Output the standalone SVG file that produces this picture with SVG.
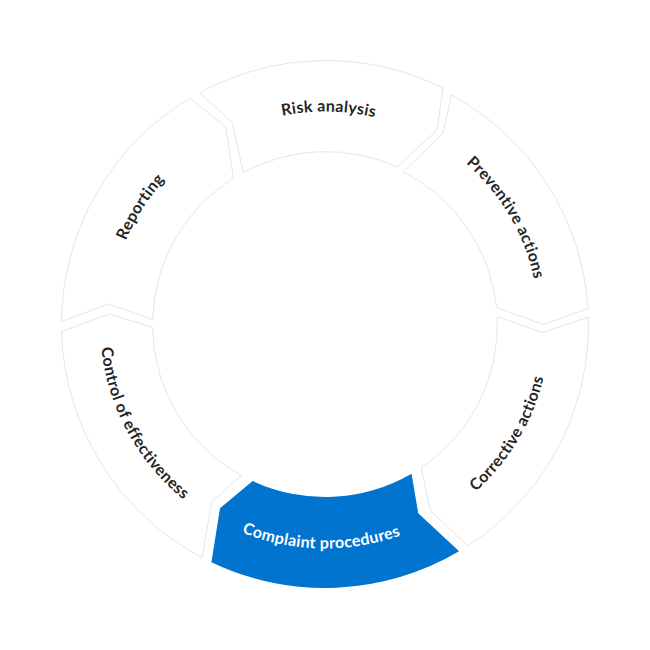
<svg xmlns="http://www.w3.org/2000/svg" width="650" height="650" viewBox="0 0 650 650">
<style>
.seg{fill:#ffffff;stroke:#e6e6e6;stroke-width:1;stroke-linejoin:miter}
.active{fill:#0074cf;stroke:none}
.lbl{font-family:Lato,"Liberation Sans",sans-serif;font-size:16px;font-weight:bold;letter-spacing:0.3px;fill:#262626;text-anchor:middle}
.lbl-w{fill:#ffffff}
</style>
<defs>
<path id="p-risk" d="M190.96 158.98 A213 213 0 0 1 464.75 163.75"/>
<path id="p-prev" d="M396.43 122.78 A214 214 0 0 1 536.07 359.81"/>
<path id="p-corr" d="M399.0 536.99 A225 225 0 0 0 547.1 288.52"/>
<path id="p-comp" d="M178.03 493.55 A224 224 0 0 0 465.96 498.57"/>
<path id="p-ctrl" d="M104.52 279.63 A225 225 0 0 0 242.54 533.84"/>
<path id="p-rep" d="M110.85 352.69 A216 216 0 0 1 260.05 118.5"/>
</defs>
<rect width="650" height="650" fill="#ffffff"/>
<g id="risk-analysis">
<path class="seg" d="M199.8 92.7 A263.5 263.5 0 0 1 443 88 L437 130 L397 167 A172.5 172.5 0 0 0 243.2 172.6 L232.3 122.8 Z"/>
<text class="lbl"><textPath href="#p-risk" startOffset="50%">Risk analysis</textPath></text>
</g>
<g id="preventive-actions">
<path class="seg" d="M451.7 95 A263.5 263.5 0 0 1 588 308.5 L543 324.5 L496.7 307.5 A172.5 172.5 0 0 0 403 172 L443 133 Z"/>
<text class="lbl"><textPath href="#p-prev" startOffset="50%">Preventive actions</textPath></text>
</g>
<g id="corrective-actions">
<path class="seg" d="M588.4 317 A263.5 263.5 0 0 1 467.85 545.91 L429.94 509.86 L421.27 467.64 A172.5 172.5 0 0 0 497.3 316.5 L543 332.7 Z"/>
<text class="lbl"><textPath href="#p-corr" startOffset="50%">Corrective actions</textPath></text>
</g>
<g id="complaint-procedures">
<path class="seg active" d="M459.08 551.33 A263.5 263.5 0 0 1 211.4 562.25 L220.02 508.33 L252.61 481.08 A172.5 172.5 0 0 0 411.55 473.71 L418.22 513.16 Z"/>
<text class="lbl lbl-w"><textPath href="#p-comp" startOffset="50%">Complaint procedures</textPath></text>
</g>
<g id="control-of-effectiveness">
<path class="seg" d="M202.1 557.57 A263.5 263.5 0 0 1 61.6 331.7 L109.5 314 L152.5 327.3 A172.5 172.5 0 0 0 241.44 475.41 L211.77 501.61 Z"/>
<text class="lbl"><textPath href="#p-ctrl" startOffset="50%">Control of effectiveness</textPath></text>
</g>
<g id="reporting">
<path class="seg" d="M61.5 321.7 A263.5 263.5 0 0 1 190 98.2 L225.8 126.6 L233.4 178.4 A172.5 172.5 0 0 0 152.6 319.3 L108 304 Z"/>
<text class="lbl"><textPath href="#p-rep" startOffset="50%">Reporting</textPath></text>
</g>
<g id="connectors"/>
</svg>
